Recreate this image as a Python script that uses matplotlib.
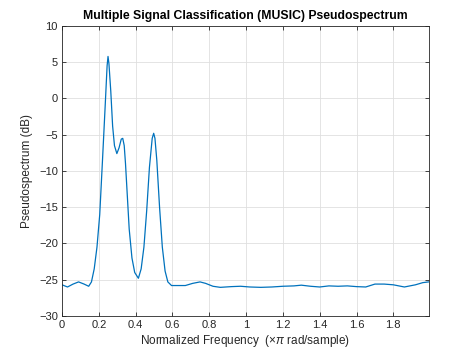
import matplotlib
matplotlib.use("Agg")
import matplotlib.pyplot as plt
import numpy as np

plt.rcParams['font.family'] = ['Liberation Sans', 'DejaVu Sans']
plt.rcParams['mathtext.fontset'] = 'custom'
plt.rcParams['mathtext.rm'] = 'Liberation Sans'
plt.rcParams['mathtext.it'] = 'Liberation Sans:italic'

# normalized frequency (x pi rad/sample) and pseudospectrum (dB)
freq = [0.000, 0.030, 0.060, 0.090, 0.120, 0.145, 0.160, 0.175, 0.190, 0.205,
        0.220, 0.235, 0.245, 0.250, 0.255, 0.265, 0.275, 0.285, 0.298, 0.310,
        0.322, 0.330, 0.338, 0.345, 0.355, 0.365, 0.380, 0.395, 0.415, 0.430,
        0.445, 0.460, 0.475, 0.490, 0.498, 0.505, 0.515, 0.530, 0.545, 0.560,
        0.575, 0.595, 0.630, 0.670, 0.710, 0.750, 0.780, 0.820, 0.860, 0.920,
        0.970, 1.020, 1.080, 1.140, 1.200, 1.260, 1.300, 1.350, 1.400, 1.450,
        1.500, 1.550, 1.600, 1.650, 1.700, 1.750, 1.800, 1.860, 1.920, 1.960,
        1.992]
pdb = [-25.7, -26.0, -25.6, -25.3, -25.6, -25.9, -25.3, -23.5, -20.5, -16.0,
       -8.5, -0.8, 4.5, 5.8, 4.8, 1.0, -3.8, -6.5, -7.6, -6.8,
       -5.6, -5.5, -6.5, -9.0, -13.5, -18.0, -22.0, -24.0, -24.8, -23.5,
       -20.5, -15.5, -9.5, -5.5, -4.8, -5.5, -8.5, -15.0, -20.5, -23.8,
       -25.3, -25.8, -25.8, -25.8, -25.5, -25.3, -25.5, -25.9, -26.05, -25.95,
       -25.9, -26.0, -26.05, -26.0, -25.9, -25.85, -25.75, -25.9, -26.0, -25.85,
       -25.9, -25.85, -25.95, -26.0, -25.6, -25.6, -25.7, -26.0, -25.7, -25.4,
       -25.3]

xticks = [0, 0.2, 0.4, 0.6, 0.8, 1, 1.2, 1.4, 1.6, 1.8]
xticklabels = ['0', '0.2', '0.4', '0.6', '0.8', '1', '1.2', '1.4', '1.6', '1.8']
yticks = [-30, -25, -20, -15, -10, -5, 0, 5, 10]

fig = plt.figure(figsize=(4.74, 3.55), dpi=100)
ax = fig.add_axes([0.1308, 0.1099, 0.7736, 0.8169])

ax.plot(freq, pdb, color='#0072BD', linewidth=0.9)

ax.set_xlim(0, 1.992)
ax.set_ylim(-30, 10)
ax.set_xticks(xticks)
ax.set_xticklabels(xticklabels)
ax.set_yticks(yticks)
ax.grid(True, color='#dfdfdf', linewidth=0.6)
ax.set_axisbelow(True)
ax.tick_params(direction='in', top=True, right=True, length=3, width=0.6,
               labelsize=8, colors='#262626', pad=3)
for s in ax.spines.values():
    s.set_color('#262626')
    s.set_linewidth(0.6)

ax.set_title('Multiple Signal Classification (MUSIC) Pseudospectrum',
             fontsize=8.8, fontweight='bold', pad=5)
ax.set_xlabel(r'Normalized Frequency  ($\times\pi$ rad/sample)', fontsize=8.5, color='#262626', labelpad=2)
ax.set_ylabel('Pseudospectrum (dB)', fontsize=8.5, color='#262626', labelpad=4)

fig.savefig('out.png', dpi=100)
